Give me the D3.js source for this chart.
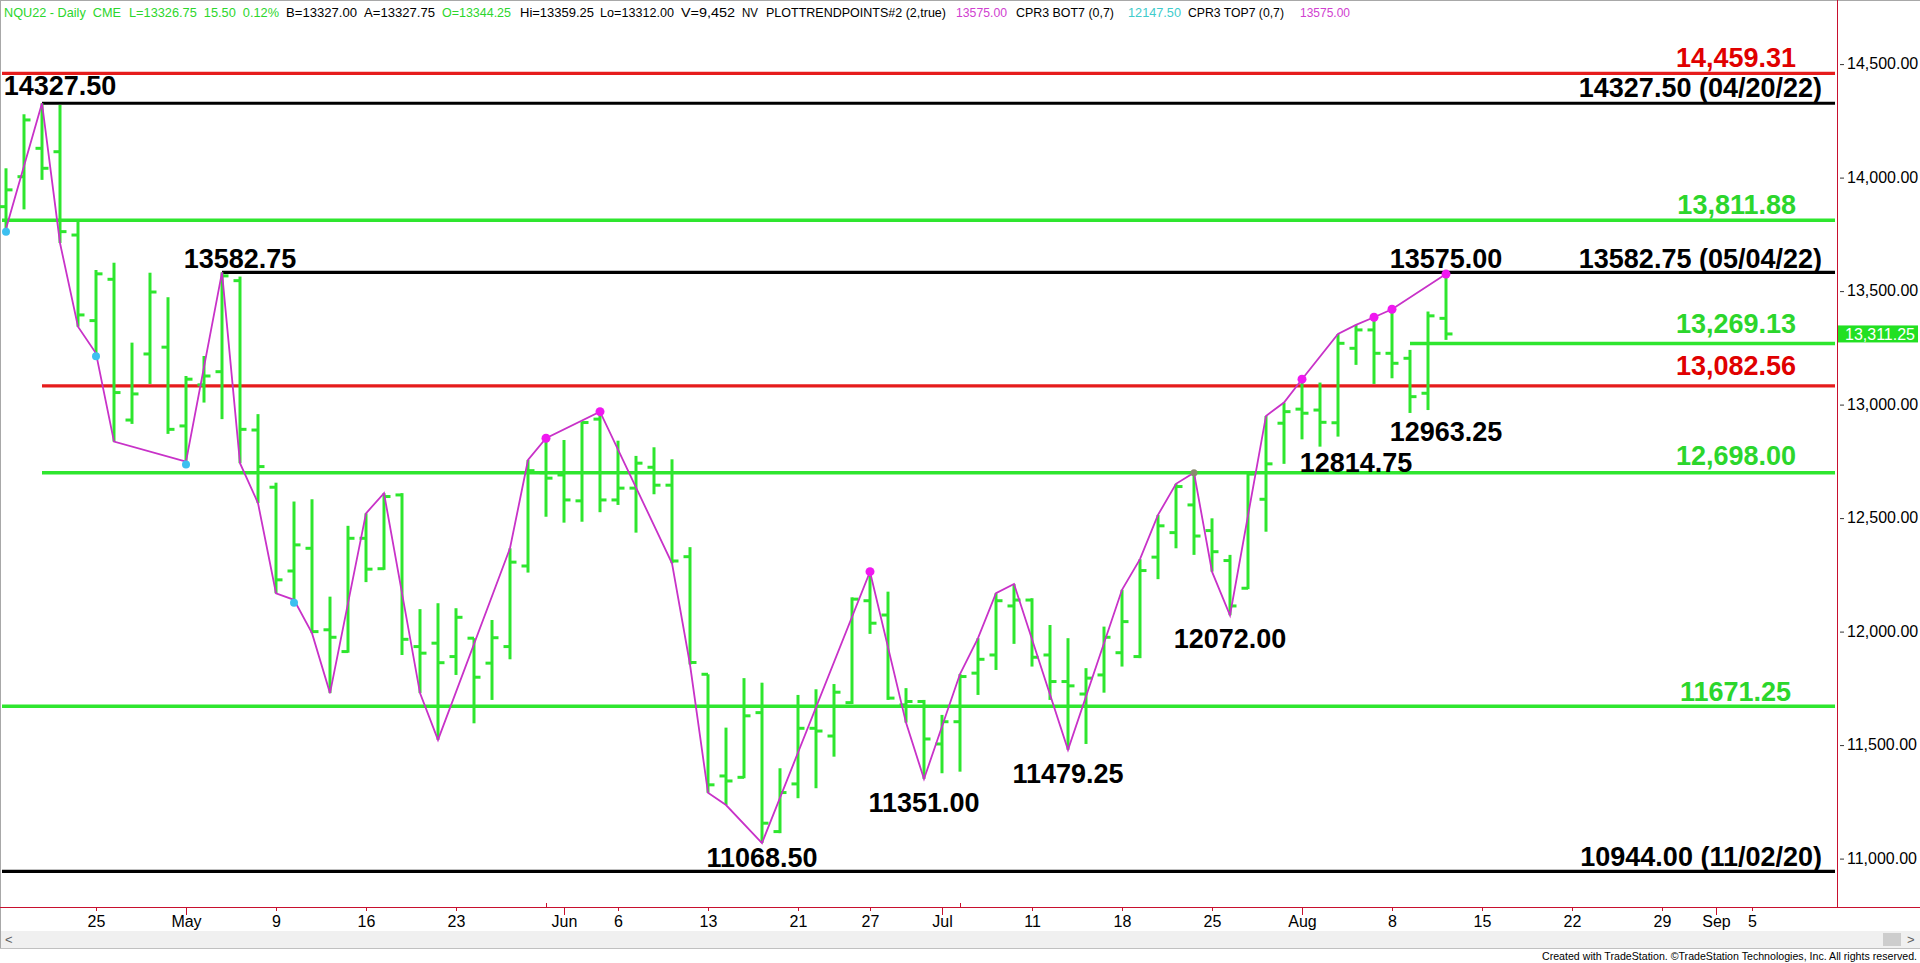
<!DOCTYPE html>
<html><head><meta charset="utf-8">
<script src="https://cdn.jsdelivr.net/npm/d3@7"></script>
<style>
html,body{margin:0;padding:0;background:#fff;overflow:hidden}
svg{display:block;font-family:Arial,"Liberation Sans",sans-serif}
</style></head><body>
<svg id="chart" width="1920" height="963"></svg>
<script>
// ---------------- DATA ----------------
const startDate = "2022-04-18";
const endDate = "2022-09-16";
const holidays = ["2022-05-30", "2022-06-20", "2022-07-04"];

const open = [13872,14004,14129,14114,13747,13370,13552,12932,13223,13253,
  12906,13087,13145,13546,12888,12636,12267,12367,12008,11912,
  12411,12277,12602,11934,11949,11890,11971,11861,11934,12289,
  12700,12690,12576,12936,12580,12632,12724,12645,12330,11812,
  11364,11358,11643,11119,11329,11574,11540,11687,12136,12073,
  11677,11692,11505,11603,11817,11897,12113,12139,11897,11780,
  11725,11809,11907,11890,12328,12436,12558,12445,12313,12191,
  12583,12918,12980,12976,12920,13248,13329,13226,13204,13050,13380];
const high = [14041,14279,14327.5,14320,13813,13593,13625,13273,13581,13473,
  13126,13214,13582.75,13564,12958,12656,12573,12583,12154,12466,
  12521,12610,12610,12099,12125,12103,11971,12051,12367,12756,
  12852,12844,12925,12969,12841,12774,12812,12759,12372,11812,
  11577,11795,11775,11398,11721,11746,11769,12151,12264,12176,
  11751,11699,11633,11813,11971,12169,12210,12147,12029,11971,
  11839,12022,12184,12319,12514,12651,12700,12499,12338,12700,
  12950,13009,13112,13097,13311,13351,13385,13420,13241,13410,13575];
const low = [13775,13860,13990,13712,13343,13226,12837,12915,13091,12871,
  12749,13009,12936,12742,12566,12169,12140,11993,11729,11907,
  12218,12272,11897,11729,11523,11809,11596,11699,11878,12260,
  12506,12480,12484,12526,12558,12436,12605,12301,11855,11290,
  11236,11354,11068.5,11112,11266,11310,11449,11681,11990,11699,
  11599,11351,11376,11383,11721,11831,11946,11846,11699,11479.25,
  11505,11731,11846,11883,12231,12367,12338,12264,12072,12187,
  12440,12739,12847,12814.75,12859,13175,13091,13116,12963.25,12976,13285];
const close = [13946,14254,14041,13762,13395,13576,13053,13047,13496,12891,
  13112,13126,13567,12891,12727,12228,12382,12000,11975,12411,
  12275,12595,11966,11905,11863,12063,11799,11973,12306,12709,
  12676,12580,12921,12580,12632,12742,12645,12311,11864,11325,
  11342,11629,11156,11291,11574,11562,11733,12143,12037,11707,
  11692,11527,11603,11802,11878,12136,12139,11887,11780,11761,
  11795,11975,12044,12269,12466,12639,12421,12352,12113,12694,
  12739,12969,12962,12922,13270,13329,13226,13182,13035,13391,13311.25];

// trend line vertices: [bar index, "H" or "L"]
const trendPoints = [[0,"L"],[2,"H"],[3,"L"],[4,"L"],[5,"L"],[6,"L"],[10,"L"],[12,"H"],[13,"L"],
  [14,"L"],[15,"L"],[16,"L"],[17,"L"],[18,"L"],[20,"H"],[21,"H"],[23,"L"],[24,"L"],
  [28,"H"],[29,"H"],[30,"H"],[33,"H"],[37,"L"],[38,"L"],[39,"L"],[40,"L"],[42,"L"],
  [48,"H"],[50,"L"],[51,"L"],[53,"H"],[54,"H"],[55,"H"],[56,"H"],[59,"L"],[62,"H"],
  [63,"H"],[64,"H"],[65,"H"],[66,"H"],[67,"L"],[68,"L"],[70,"H"],[71,"H"],[72,"H"],
  [74,"H"],[75,"H"],[76,"H"],[77,"H"],[80,"H"]];
const blueDots = [[0,"L"],[5,"L"],[10,"L"],[16,"L"]];
const pinkDots = [[30,"H"],[33,"H"],[48,"H"],[72,"H"],[76,"H"],[77,"H"],[80,"H"]];
const grayDots = [[66,"H"]];

// horizontal levels: value, label, colour, first bar index (null = whole width)
const levelValues = [14459.31, 14327.5, 13811.88, 13582.75, 13269.13, 13082.56, 12700, 11671.25, 10944];
const levelLabels = ["14,459.31","14327.50 (04/20/22)","13,811.88","13582.75 (05/04/22)","13,269.13","13,082.56","12,698.00","11671.25","10944.00 (11/02/20)"];
const levelKinds = ["red","black","green","black","green","red","green","green","black"];
const levelStart = [null, 2, null, 12, 78, 2, 2, null, null];

// annotations: text, bar index, value
const noteTexts = ["14327.50","13582.75","13575.00","12963.25","12814.75","12072.00","11479.25","11351.00","11068.50"];
const noteBars = [3, 13, 80, 80, 75, 68, 59, 51, 42];
const noteValues = [14327.5, 13582.75, 13575, 12963.25, 12814.75, 12072, 11479.25, 11351, 11068.5];

// axis ticks
const priceTicks = [11000, 11500, 12000, 12500, 13000, 13500, 14000, 14500];
const dateTicks = ["2022-04-25","2022-05-02","2022-05-09","2022-05-16","2022-05-23","2022-05-31","2022-06-01","2022-06-06","2022-06-13","2022-06-21","2022-06-27","2022-07-01","2022-07-05","2022-07-11","2022-07-18","2022-07-25","2022-08-01","2022-08-08","2022-08-15","2022-08-22","2022-08-29","2022-09-01","2022-09-05"];
const dateTickLabels = ["25","May","9","16","23","","Jun","6","13","21","27","Jul","","11","18","25","Aug","8","15","22","29","Sep","5"];
const lastPrice = 13311.25;

const headerTexts = ["NQU22 - Daily  CME","L=13326.75  15.50  0.12%","B=13327.00","A=13327.75","O=13344.25","Hi=13359.25","Lo=13312.00","V=9,452","NV","PLOTTRENDPOINTS#2 (2,true)","13575.00","CPR3 BOT7 (0,7)","12147.50","CPR3 TOP7 (0,7)","13575.00"];
const headerKinds = ["green","green","black","black","green","black","black","black","black","black","pink","black","cyan","black","pink"];

// ---------------- LAYOUT / STYLE ----------------
const headerX = [4,129,286,364,442,520,600,681,742,766,956,1016,1128,1188,1300];
const headerW = [117,150,71,71,69,74,74,54,16,180,51,98,53,96,50];
const colors = {green:"#2ee62e", red:"#e61c1c", black:"#000", pink:"#d63cd6", cyan:"#3cd2d2"};
const textColors = {green:"#2cd62c", red:"#e00000", black:"#000", pink:"#d040d0", cyan:"#40cccc"};
const axisRed = "#c8102e";

const svg = d3.select("#chart");
const fmt = d3.timeFormat("%Y-%m-%d");
const parse = d3.timeParse("%Y-%m-%d");
const calendar = d3.timeDay.range(parse(startDate), d3.timeDay.offset(parse(endDate), 1))
  .filter(d => d.getDay() !== 0 && d.getDay() !== 6 && !holidays.includes(fmt(d)))
  .map(fmt);
const bars = open.map((o, i) => ({date: calendar[i], o, h: high[i], l: low[i], c: close[i]}));
const idx = s => calendar.indexOf(s);

const x = d3.scaleLinear().domain([0, 100]).range([6, 1806]);
const y = d3.scaleLinear().domain([11000, 14500]).range([858.6, 64.1]);
const plotRight = 1837, plotBottom = 907;
const val = (p) => p[1] === "H" ? high[p[0]] : low[p[0]];

// frame
svg.append("rect").attr("x",0).attr("y",0).attr("width",1920).attr("height",963).attr("fill","#fff");
svg.append("line").attr("x1",0).attr("x2",1920).attr("y1",0.5).attr("y2",0.5).attr("stroke","#a8a8a8");
svg.append("line").attr("x1",0.5).attr("x2",0.5).attr("y1",0).attr("y2",948).attr("stroke","#a8a8a8");

// header
svg.append("g").selectAll("text").data(headerTexts).join("text")
  .attr("x", (d,i) => headerX[i]).attr("y", 16.5)
  .attr("font-size", 13).attr("fill", (d,i) => textColors[headerKinds[i]])
  .attr("textLength", (d,i) => headerW[i]).attr("lengthAdjust","spacingAndGlyphs")
  .attr("xml:space","preserve")
  .text(d => d);

// horizontal levels
const lv = svg.append("g");
levelValues.forEach((v, k) => {
  const x1 = levelStart[k] === null ? 2 : x(levelStart[k]);
  lv.append("line").attr("x1", x1).attr("x2", plotRight - 2)
    .attr("y1", y(v)).attr("y2", y(v))
    .attr("stroke", colors[levelKinds[k]]).attr("stroke-width", levelKinds[k] === "green" ? 3.5 : 3.2);
});

// OHLC bars
const bg = svg.append("g").attr("stroke", "#2ee62e").attr("stroke-width", 3);
bg.selectAll(".hl").data(bars).join("line")
  .attr("x1", (d,i) => x(i)).attr("x2", (d,i) => x(i))
  .attr("y1", d => y(d.h)).attr("y2", d => y(d.l));
bg.selectAll(".op").data(bars).join("line")
  .attr("x1", (d,i) => x(i) - 6.5).attr("x2", (d,i) => x(i))
  .attr("y1", d => y(d.o)).attr("y2", d => y(d.o));
bg.selectAll(".cl").data(bars).join("line")
  .attr("x1", (d,i) => x(i)).attr("x2", (d,i) => x(i) + 6.5)
  .attr("y1", d => y(d.c)).attr("y2", d => y(d.c));

// trend line
svg.append("path").datum(trendPoints)
  .attr("d", d3.line().x(p => x(p[0])).y(p => y(val(p))))
  .attr("fill","none").attr("stroke","#c832c8").attr("stroke-width",1.8);
svg.append("g").selectAll("circle").data(blueDots).join("circle")
  .attr("cx", p => x(p[0])).attr("cy", p => y(val(p)) + 3).attr("r", 4).attr("fill", "#3cc0f0");
svg.append("g").selectAll("circle").data(pinkDots).join("circle")
  .attr("cx", p => x(p[0])).attr("cy", p => y(val(p))).attr("r", 4.5).attr("fill", "#f018f0");
svg.append("g").selectAll("circle").data(grayDots).join("circle")
  .attr("cx", p => x(p[0])).attr("cy", p => y(val(p))).attr("r", 3.5).attr("fill", "#8a8a70");

// level labels
const labelEnd = [1796, 1822, 1796, 1822, 1796, 1796, 1796, 1791, 1822];
const labelDy = [-6, -6, -6, -4.5, -11, -11, -8, -5, -5];
svg.append("g").selectAll("text").data(levelLabels).join("text")
  .attr("x", (d,k) => labelEnd[k])
  .attr("y", (d,k) => y(levelValues[k]) + labelDy[k])
  .attr("text-anchor","end").attr("font-size",27).attr("font-weight","bold")
  .attr("fill", (d,k) => textColors[levelKinds[k]])
  .text(d => d);

// annotations
const noteDy = [-8, -4.5, -6, 28, 25, 33, 33, 33, 24];
svg.append("g").selectAll("text").data(noteTexts).join("text")
  .attr("x", (d,k) => x(noteBars[k])).attr("y", (d,k) => y(noteValues[k]) + noteDy[k])
  .attr("text-anchor","middle").attr("font-size",27).attr("font-weight","bold").attr("fill","#000")
  .text(d => d);

// right axis
svg.append("line").attr("x1", plotRight + 0.5).attr("x2", plotRight + 0.5).attr("y1", 0).attr("y2", plotBottom)
  .attr("stroke", axisRed).attr("stroke-width", 1);
const ra = svg.append("g").attr("transform", `translate(${plotRight + 3},0)`)
  .call(d3.axisRight(y).tickValues(priceTicks).tickFormat(d3.format(",.2f")).tickSize(4).tickPadding(3));
ra.select(".domain").remove();
ra.selectAll("line").attr("stroke","#333");
ra.selectAll("text").attr("font-size",16).attr("font-family","Arial, 'Liberation Sans', sans-serif").attr("fill","#000").attr("dy","0.3em");

// last price marker
const lp = svg.append("g");
lp.append("rect").attr("x", plotRight + 1).attr("y", y(lastPrice) - 8.5).attr("width", 80).attr("height", 17).attr("fill", "#22e022");
lp.append("text").attr("x", plotRight + 8).attr("y", y(lastPrice) + 6).attr("font-size", 16).attr("fill", "#fff")
  .text(d3.format(",.2f")(lastPrice));

// bottom axis
svg.append("line").attr("x1",0).attr("x2",1920).attr("y1",plotBottom + 0.5).attr("y2",plotBottom + 0.5)
  .attr("stroke",axisRed).attr("stroke-width",1);
const tickIdx = dateTicks.map(idx);
const ba = svg.append("g").attr("transform", `translate(0,${plotBottom})`)
  .call(d3.axisBottom(x).tickValues(tickIdx).tickFormat((d,i) => dateTickLabels[i]).tickSize(4).tickPadding(5));
ba.select(".domain").remove();
ba.selectAll("line").attr("stroke", axisRed)
  .attr("y1", (d,i) => dateTickLabels[i] === "" ? -4 : 0)
  .attr("y2", (d,i) => dateTickLabels[i] === "" ? 0 : (/^[A-Z]/.test(dateTickLabels[i]) ? 8 : 4));
ba.selectAll("text").attr("font-size",16).attr("font-family","Arial, 'Liberation Sans', sans-serif").attr("fill","#000");

// scroll bar
svg.append("rect").attr("x",1).attr("y",931).attr("width",1919).attr("height",17).attr("fill","#f0f0f0");
svg.append("line").attr("x1",0).attr("x2",1920).attr("y1",948.5).attr("y2",948.5).attr("stroke","#c0c0c0");
svg.append("text").attr("x",5).attr("y",944).attr("font-size",13).attr("fill","#606060").text("<");
svg.append("rect").attr("x",1883).attr("y",933).attr("width",18).attr("height",13).attr("fill","#cdcdcd");
svg.append("text").attr("x",1907).attr("y",944).attr("font-size",13).attr("fill","#606060").text(">");

// copyright
svg.append("text").attr("x",1542).attr("y",960).attr("font-size",10.5).attr("fill","#000")
  .attr("textLength",375).attr("lengthAdjust","spacingAndGlyphs")
  .text("Created with TradeStation. \u00A9TradeStation Technologies, Inc. All rights reserved.");
</script>
</body></html>
